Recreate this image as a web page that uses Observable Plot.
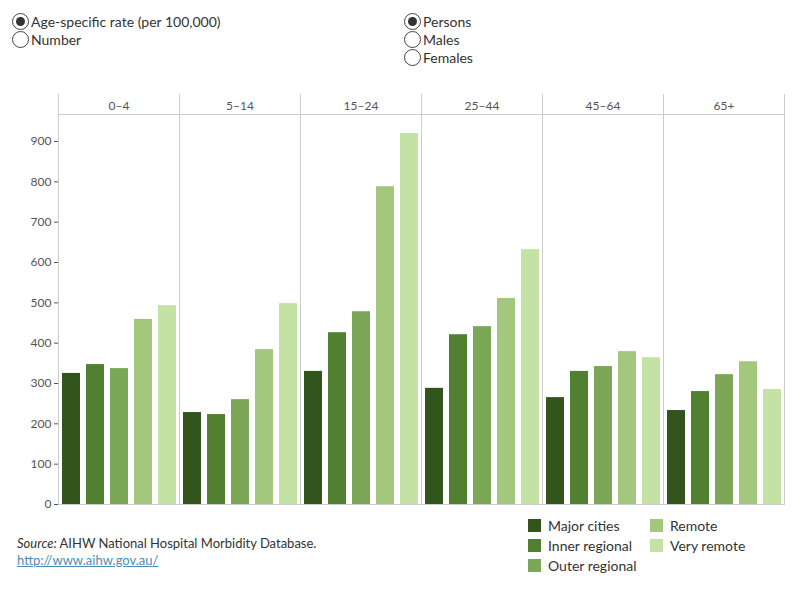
<!DOCTYPE html>
<html>
<head>
<meta charset="utf-8">
<script src="https://cdn.jsdelivr.net/npm/d3@7"></script>
<script src="https://cdn.jsdelivr.net/npm/@observablehq/plot@0.6"></script>
<style>
  body { margin:0; width:800px; height:600px; position:relative; font-family: Lato, "Open Sans", sans-serif; color:#333; background:#fff; overflow:hidden; }
  .radio { position:absolute; display:flex; align-items:center; font-size:14px; color:#333; height:18px; }
  .radio .c { width:17px; height:17px; box-sizing:border-box; border:1px solid #444; border-radius:50%; background:#fff; position:relative; margin-right:2px; }
  .radio .c.on::after { content:""; position:absolute; left:3px; top:3px; width:9px; height:9px; border-radius:50%; background:#333; }
  #chart { position:absolute; left:0; top:84px; }
  #caption { position:absolute; left:17px; top:535px; font-size:13px; color:#333; line-height:17px; }
  #caption a { color:#4a8db5; text-decoration:underline; }
  #legend { position:absolute; left:528px; top:515px; font-size:14px; color:#333; }
  .li { position:absolute; display:flex; align-items:center; height:20px; white-space:nowrap; }
  .li .sw { width:13px; height:13px; margin-right:7px; }
</style>
</head>
<body>
<div id="controls"></div>
<div id="chart"></div>
<div id="caption"><i>Source:</i> AIHW National Hospital Morbidity Database.<br><a href="http://www.aihw.gov.au/">http://www.aihw.gov.au/</a></div>
<div id="legend"></div>
<script>
const ageGroups = ["0–4", "5–14", "15–24", "25–44", "45–64", "65+"];
const regions = ["Major cities", "Inner regional", "Outer regional", "Remote", "Very remote"];
const regionColors = ["#32551e", "#518030", "#7ba757", "#a3c77c", "#c4e2a4"];
const yTicks = [0, 100, 200, 300, 400, 500, 600, 700, 800, 900];

// Age-specific rate (per 100,000), persons, by remoteness
const rate0_4   = [325, 347, 337, 459, 493];
const rate5_14  = [228, 223, 260, 384, 498];
const rate15_24 = [330, 426, 478, 788, 920];
const rate25_44 = [288, 421, 441, 511, 632];
const rate45_64 = [265, 330, 342, 379, 364];
const rate65    = [233, 280, 322, 354, 285];
const seriesByAge = [rate0_4, rate5_14, rate15_24, rate25_44, rate45_64, rate65];

const measureOptions = ["Age-specific rate (per 100,000)", "Number"];
const sexOptions = ["Persons", "Males", "Females"];

const data = ageGroups.flatMap((age, i) =>
  regions.map((region, j) => ({age, region, value: seriesByAge[i][j]})));

// Radio controls
const controls = document.getElementById("controls");
function addRadios(opts, left, top0) {
  opts.forEach((o, i) => {
    const d = document.createElement("div");
    d.className = "radio";
    d.style.left = left + "px";
    d.style.top = (top0 + i * 18) + "px";
    d.innerHTML = `<span class="c${i === 0 ? " on" : ""}"></span><span>${o}</span>`;
    controls.appendChild(d);
  });
}
addRadios(measureOptions, 12, 12);
addRadios(sexOptions, 404, 12);

const chart = Plot.plot({
  width: 790,
  height: 426,
  marginLeft: 56,
  marginRight: 5,
  marginTop: 30,
  marginBottom: 6,
  style: {fontFamily: "Lato, 'Open Sans', sans-serif", fontSize: "12px", color: "#555", background: "#fff"},
  fx: {domain: ageGroups, padding: 0, label: null, tickSize: 0, tickPadding: 5, axis: "top", fontSize: 13},
  x: {domain: regions, axis: null, paddingInner: 0.25, paddingOuter: 0.1},
  y: {domain: [0, 967], ticks: yTicks, tickSize: 4, tickPadding: 3, label: null},
  color: {domain: regions, range: regionColors},
  marks: [
    Plot.barY(data, {fx: "age", x: "region", y: "value", fill: "region"}),
    Plot.frame({anchor: "left", stroke: "#cccccc", insetTop: -20}),
    Plot.frame({anchor: "right", stroke: "#cccccc", insetTop: -20}),
    Plot.frame({anchor: "top", stroke: "#cccccc"}),
    Plot.frame({anchor: "bottom", stroke: "#cccccc"})
  ]
});
document.getElementById("chart").appendChild(chart);

// Legend
const legend = document.getElementById("legend");
regions.forEach((r, i) => {
  const col = i < 3 ? 0 : 1;
  const row = i < 3 ? i : i - 3;
  const d = document.createElement("div");
  d.className = "li";
  d.style.left = (col * 122) + "px";
  d.style.top = (row * 20) + "px";
  d.innerHTML = `<span class="sw" style="background:${regionColors[i]}"></span><span>${r}</span>`;
  legend.appendChild(d);
});
</script>
</body>
</html>
